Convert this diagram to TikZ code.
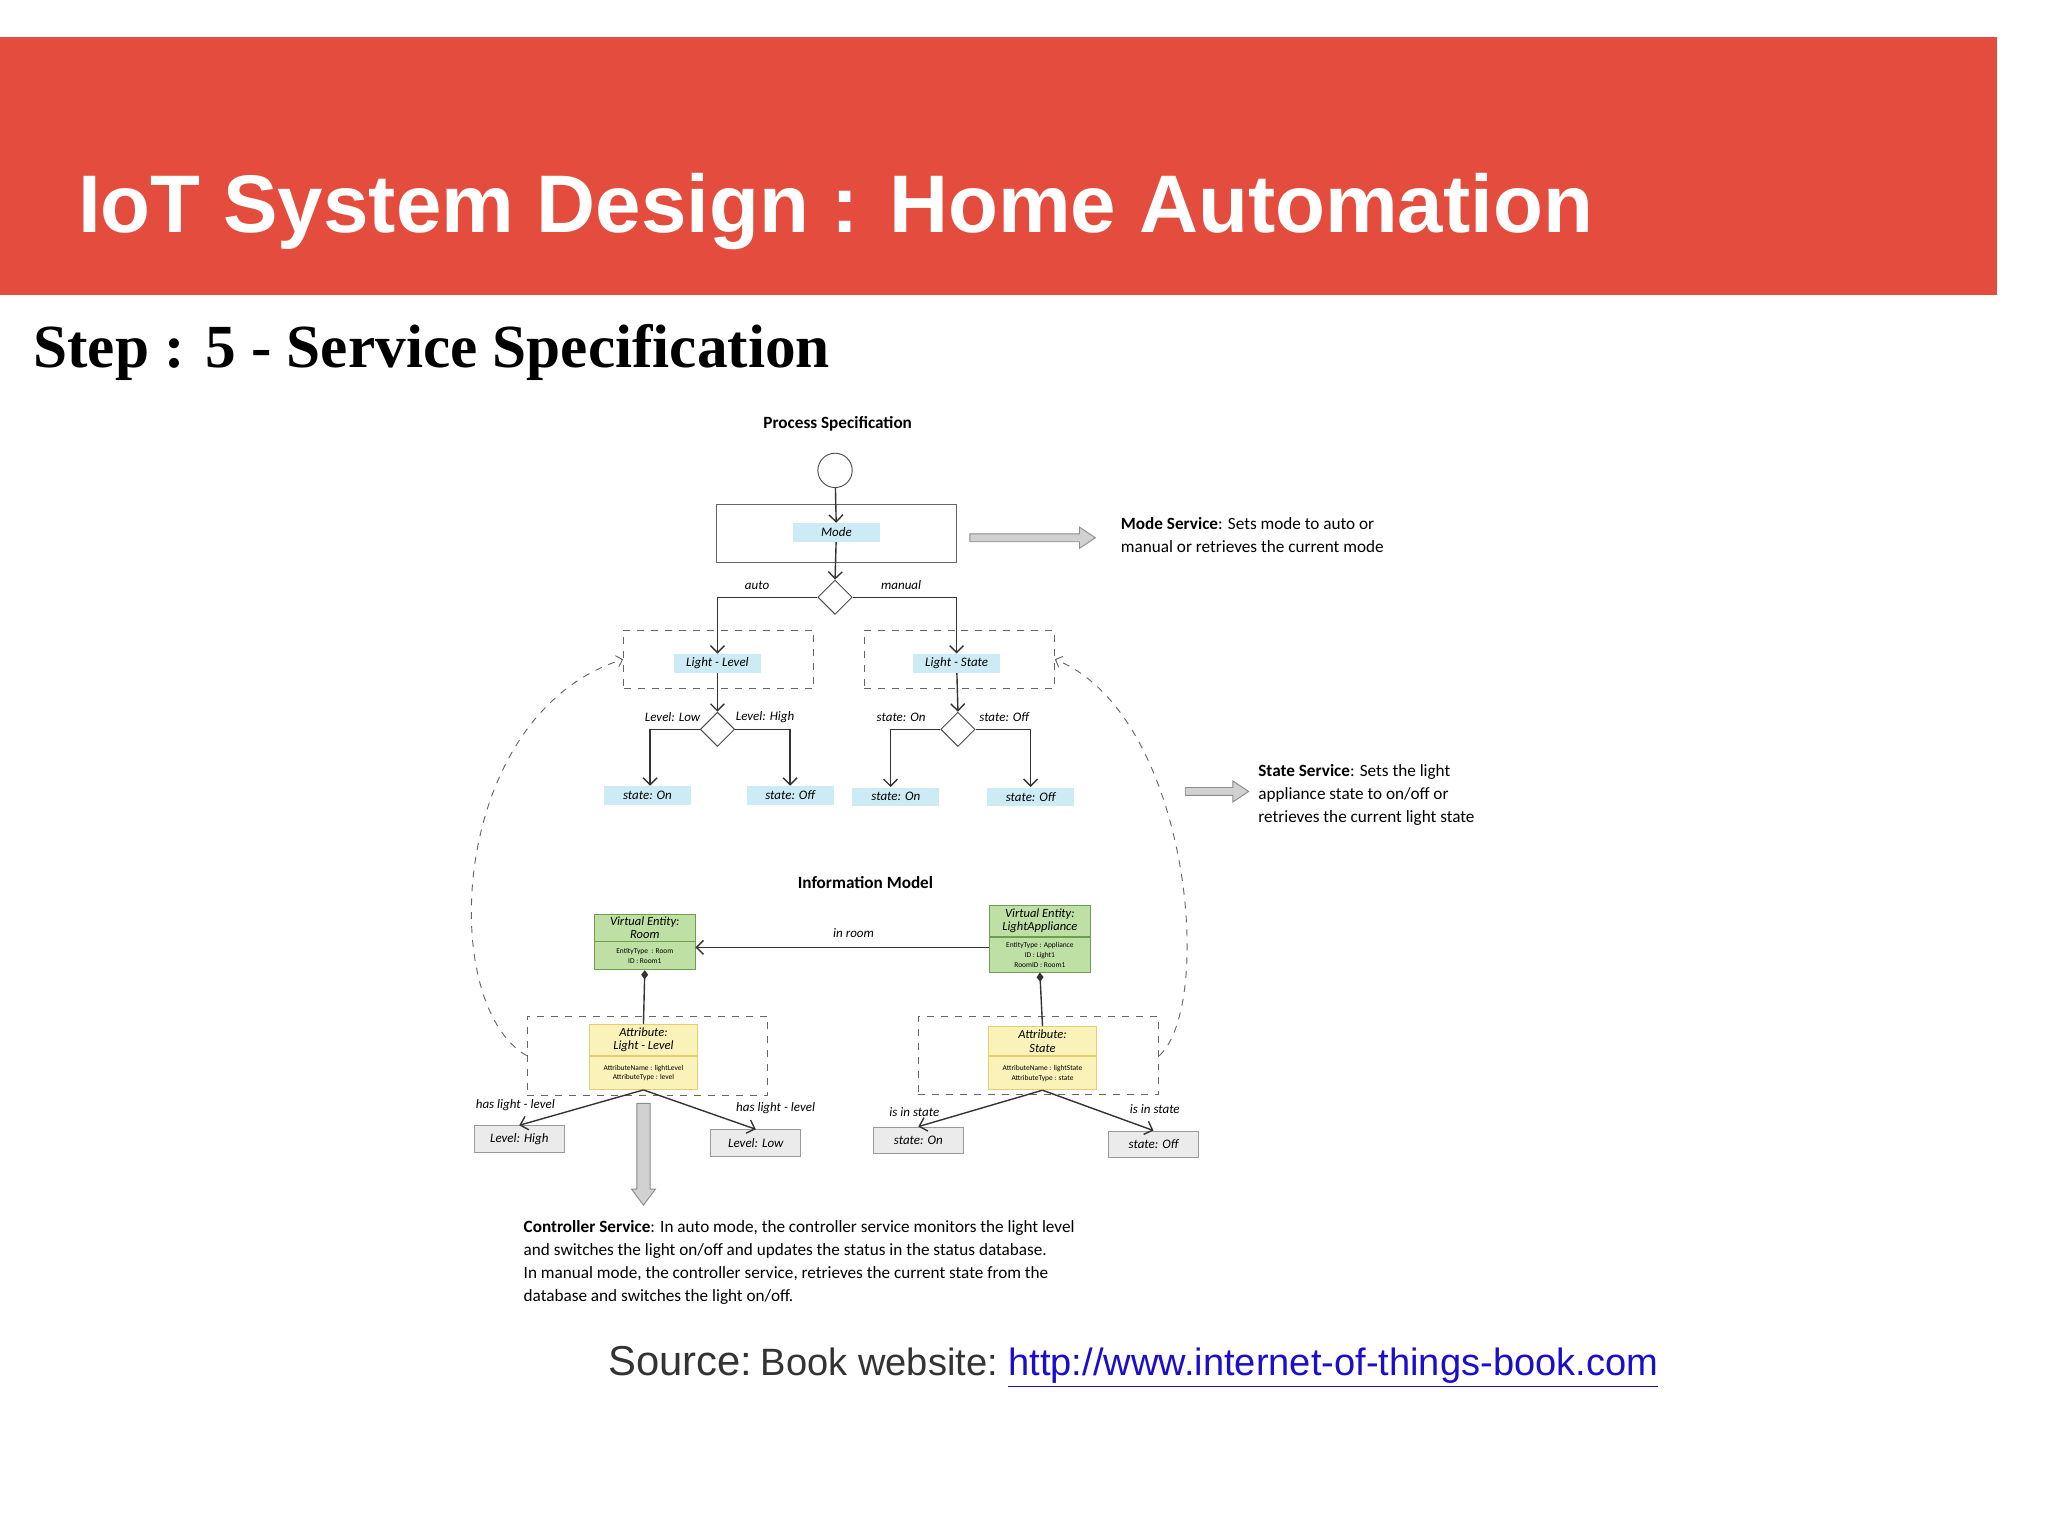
\documentclass[tikz,border=0pt]{standalone}
\usepackage{fontspec}
\setmainfont{Carlito}
\newfontfamily\titlefont{Liberation Sans}
\newfontfamily\stepfont{Liberation Serif}
\usepackage{xcolor}
\usetikzlibrary{shapes.geometric,arrows.meta,positioning}
\definecolor{barred}{HTML}{E44D3E}
\definecolor{pblue}{HTML}{CDEBF5}
\definecolor{vgreen}{HTML}{BFE0A4}
\definecolor{vgreenl}{HTML}{6E9E4E}
\definecolor{ayellow}{HTML}{FAF2B8}
\definecolor{ayellowl}{HTML}{E2CF70}
\definecolor{sgray}{HTML}{EBEBEB}
\definecolor{linkblue}{HTML}{1A0DCC}
\begin{document}
\begin{tikzpicture}[x=0.02cm,y=-0.02cm]
		\tikzset{act/.style = {fill=pblue, minimum width=1.32cm, minimum height=0.28cm, inner sep=0pt, font=\fontsize{5.6}{6}\selectfont\itshape},
			dec/.style = {shape=diamond, draw=black!70, minimum size=0.52cm, inner sep=0pt},
			grp/.style = {draw=black!60, dashed, minimum height=0.88cm, minimum width=2.88cm, inner sep=0pt},
			val/.style = {draw=black!40, fill=sgray, minimum width=1.36cm, minimum height=0.4cm, inner sep=0pt, font=\fontsize{5.6}{6}\selectfont\itshape},
			lbl/.style = {font=\fontsize{5.6}{6}\selectfont\itshape, inner sep=1pt},
			flow/.style = {-{Straight Barb[length=3pt]}, black!80, semithick},
			blk/.style = {draw=black!45, fill=black!18},
			txt/.style = {font=\fontsize{7.4}{10}\selectfont, align=left, anchor=north west, inner sep=0pt},
			ent/.style = {draw=vgreenl, fill=vgreen, minimum width=1.52cm, align=center, inner sep=1pt, font=\fontsize{5.4}{5.8}\selectfont\itshape},
			entb/.style = {ent, font=\fontsize{3.2}{4.2}\selectfont},
			att/.style = {draw=ayellowl, fill=ayellow, minimum width=1.64cm, align=center, inner sep=1.5pt, font=\fontsize{5.4}{5.8}\selectfont\itshape},
			attb/.style = {att, inner sep=1.2pt, font=\fontsize{3.2}{4.2}\selectfont}}
		\useasboundingbox (0,0) rectangle (1550,1162);

		% header
		\fill[barred] (0,28) rectangle (1511,223);
		\node[anchor=west, text=white, font=\titlefont\bfseries\fontsize{35.2}{40}\selectfont] (title) at (53,160) {IoT System Design : Home Automation};
		\node[anchor=west, font=\stepfont\bfseries\fontsize{26.4}{30}\selectfont] (step) at (19,267) {Step : 5 - Service Specification};

		% process specification
		\node[font=\fontsize{7.4}{8}\selectfont\bfseries] (ptitle) at (634,321) {Process Specification};
		\node[shape=circle, draw=black!70, minimum size=0.52cm, inner sep=0pt] (start) at (632,356) {};
		\node[draw=black!60, minimum width=3.64cm, minimum height=0.88cm] (modebox) at (633,404) {};
		\node[act] (mode) at (633,403) {Mode};
		\node[dec] (d1) at (632,452) {};
		\node[lbl] (auto) at (573,443) {auto};
		\node[lbl] (manual) at (682,443) {manual};

		\node[grp] (llbox) at (544,499) {};
		\node[grp] (lsbox) at (726,499) {};
		\node[act] (ll) at (543,502) {Light - Level};
		\node[act] (ls) at (724,502) {Light - State};

		\node[dec] (d2) at (543,552) {};
		\node[lbl] (low) at (509,543) {Level: Low};
		\node[lbl] (high) at (579,543) {Level: High};
		\node[act] (on1) at (490,602) {state: On};
		\node[act] (off1) at (598,602) {state: Off};

		\node[dec] (d3) at (725,552) {};
		\node[lbl] (son) at (682,543) {state: On};
		\node[lbl] (soff) at (760,543) {state: Off};
		\node[act] (on2) at (678,603) {state: On};
		\node[act] (off2) at (780,603) {state: Off};

		\draw[flow] (start) -- (mode);
		\draw[flow] (mode) -- (d1.north);
		\draw[flow] (d1.west) -| (ll.north);
		\draw[flow] (d1.east) -| (ls.north);
		\draw[flow] (ll) -- (d2.north);
		\draw[flow] (d2.west) -| (on1.north -| 492,0);
		\draw[flow] (d2.east) -| (off1.north);
		\draw[flow] (ls) -- (d3.north);
		\draw[flow] (d3.west) -| (on2.north -| 674,0);
		\draw[flow] (d3.east) -| (off2.north);

		% services
		\draw[blk] (734,404) -- (817,404) -- (817,399) -- (829,407) -- (817,415) -- (817,410) -- (734,410) -- cycle;
		\node[txt] (modetxt) at (848,391) {\textbf{Mode Service}: Sets mode to auto or\\manual or retrieves the current mode};
		\draw[blk] (897,596) -- (933,596) -- (933,591) -- (945,599) -- (933,607) -- (933,602) -- (897,602) -- cycle;
		\node[txt] (statetxt) at (952,578) {\textbf{State Service}: Sets the light\\appliance state to on/off or\\retrieves the current light state};

		% information model
		\node[font=\fontsize{7.4}{8}\selectfont\bfseries] (ititle) at (655,668) {Information Model};
		\node[ent, minimum height=0.4cm] (room) at (488,702) {Virtual Entity:\\Room};
		\node[entb, below=0pt of room, minimum height=0.42cm] (roomb) {EntityType~~: Room\\ID : Room1};
		\node[ent, minimum height=0.48cm] (appl) at (787,697) {Virtual Entity:\\LightAppliance};
		\node[entb, below=0pt of appl, minimum height=0.52cm] (applb) {EntityType : Appliance\\ID : Light1\\RoomID : Room1};
		\node[lbl] (inroom) at (646,706) {in room};
		\draw[flow] (applb.west |- 0,717) -- (roomb.east |- 0,717);

		\node[grp, minimum width=3.64cm, minimum height=1.2cm] (albox) at (490,799) {};
		\node[grp, minimum width=3.64cm, minimum height=1.18cm] (asbox) at (786,799) {};
		\node[att, minimum height=0.42cm] (attl) at (487,787) {Attribute:\\Light - Level};
		\node[attb, below=0pt of attl, minimum height=0.5cm] (attlb) {AttributeName : lightLevel\\AttributeType : level};
		\node[att, minimum height=0.42cm] (atts) at (789,788) {Attribute:\\State};
		\node[attb, below=0pt of atts, minimum height=0.5cm] (attsb) {AttributeName : lightState\\AttributeType : state};
		\draw[{Diamond[length=4pt,width=3pt]}-, black!80, semithick] (roomb.south) -- (attl.north);
		\draw[{Diamond[length=4pt,width=3pt]}-, black!80, semithick] (applb.south) -- (atts.north);

		\node[val] (lhigh) at (393,862) {Level: High};
		\node[val] (llow) at (572,865) {Level: Low};
		\node[val] (ston) at (695,863) {state: On};
		\node[val] (stoff) at (873,866) {state: Off};
		\draw[flow] (attlb.south) -- (lhigh.north);
		\draw[flow] (attlb.south) -- (llow.north);
		\draw[flow] (attsb.south) -- (ston.north);
		\draw[flow] (attsb.south) -- (stoff.north);
		\node[lbl] (hl1) at (390,836) {has light - level};
		\node[lbl] (hl2) at (587,839) {has light - level};
		\node[lbl] (is1) at (692,842) {is in state};
		\node[lbl] (is2) at (874,839) {is in state};

		% links between models
		\draw[dashed, black!60, -{Straight Barb[length=2.5pt]}] (albox.west) .. controls (330,760) and (340,540) .. (llbox.west);
		\draw[dashed, black!60, -{Straight Barb[length=2.5pt]}] (asbox.east) .. controls (920,760) and (900,540) .. (lsbox.east);

		% controller service
		\draw[blk] (482,835) -- (492,835) -- (492,900) -- (496,900) -- (487,912) -- (478,900) -- (482,900) -- cycle;
		\node[txt] (ctrltxt) at (396,923) {\textbf{Controller Service}: In auto mode, the controller service monitors the light level\\and switches the light on/off and updates the status in the status database.\\In manual mode, the controller service, retrieves the current state from the\\database and switches the light on/off.};

		% source
		\node[anchor=base west, inner sep=0pt, text=black!80, font=\titlefont] (src) at (460,1041) {{\fontsize{18}{20}\selectfont Source:} {\fontsize{16.4}{20}\selectfont Book website:~\textcolor{linkblue}{\underline{http://www.internet-of-things-book.com}}}};
	\end{tikzpicture}
\end{document}
